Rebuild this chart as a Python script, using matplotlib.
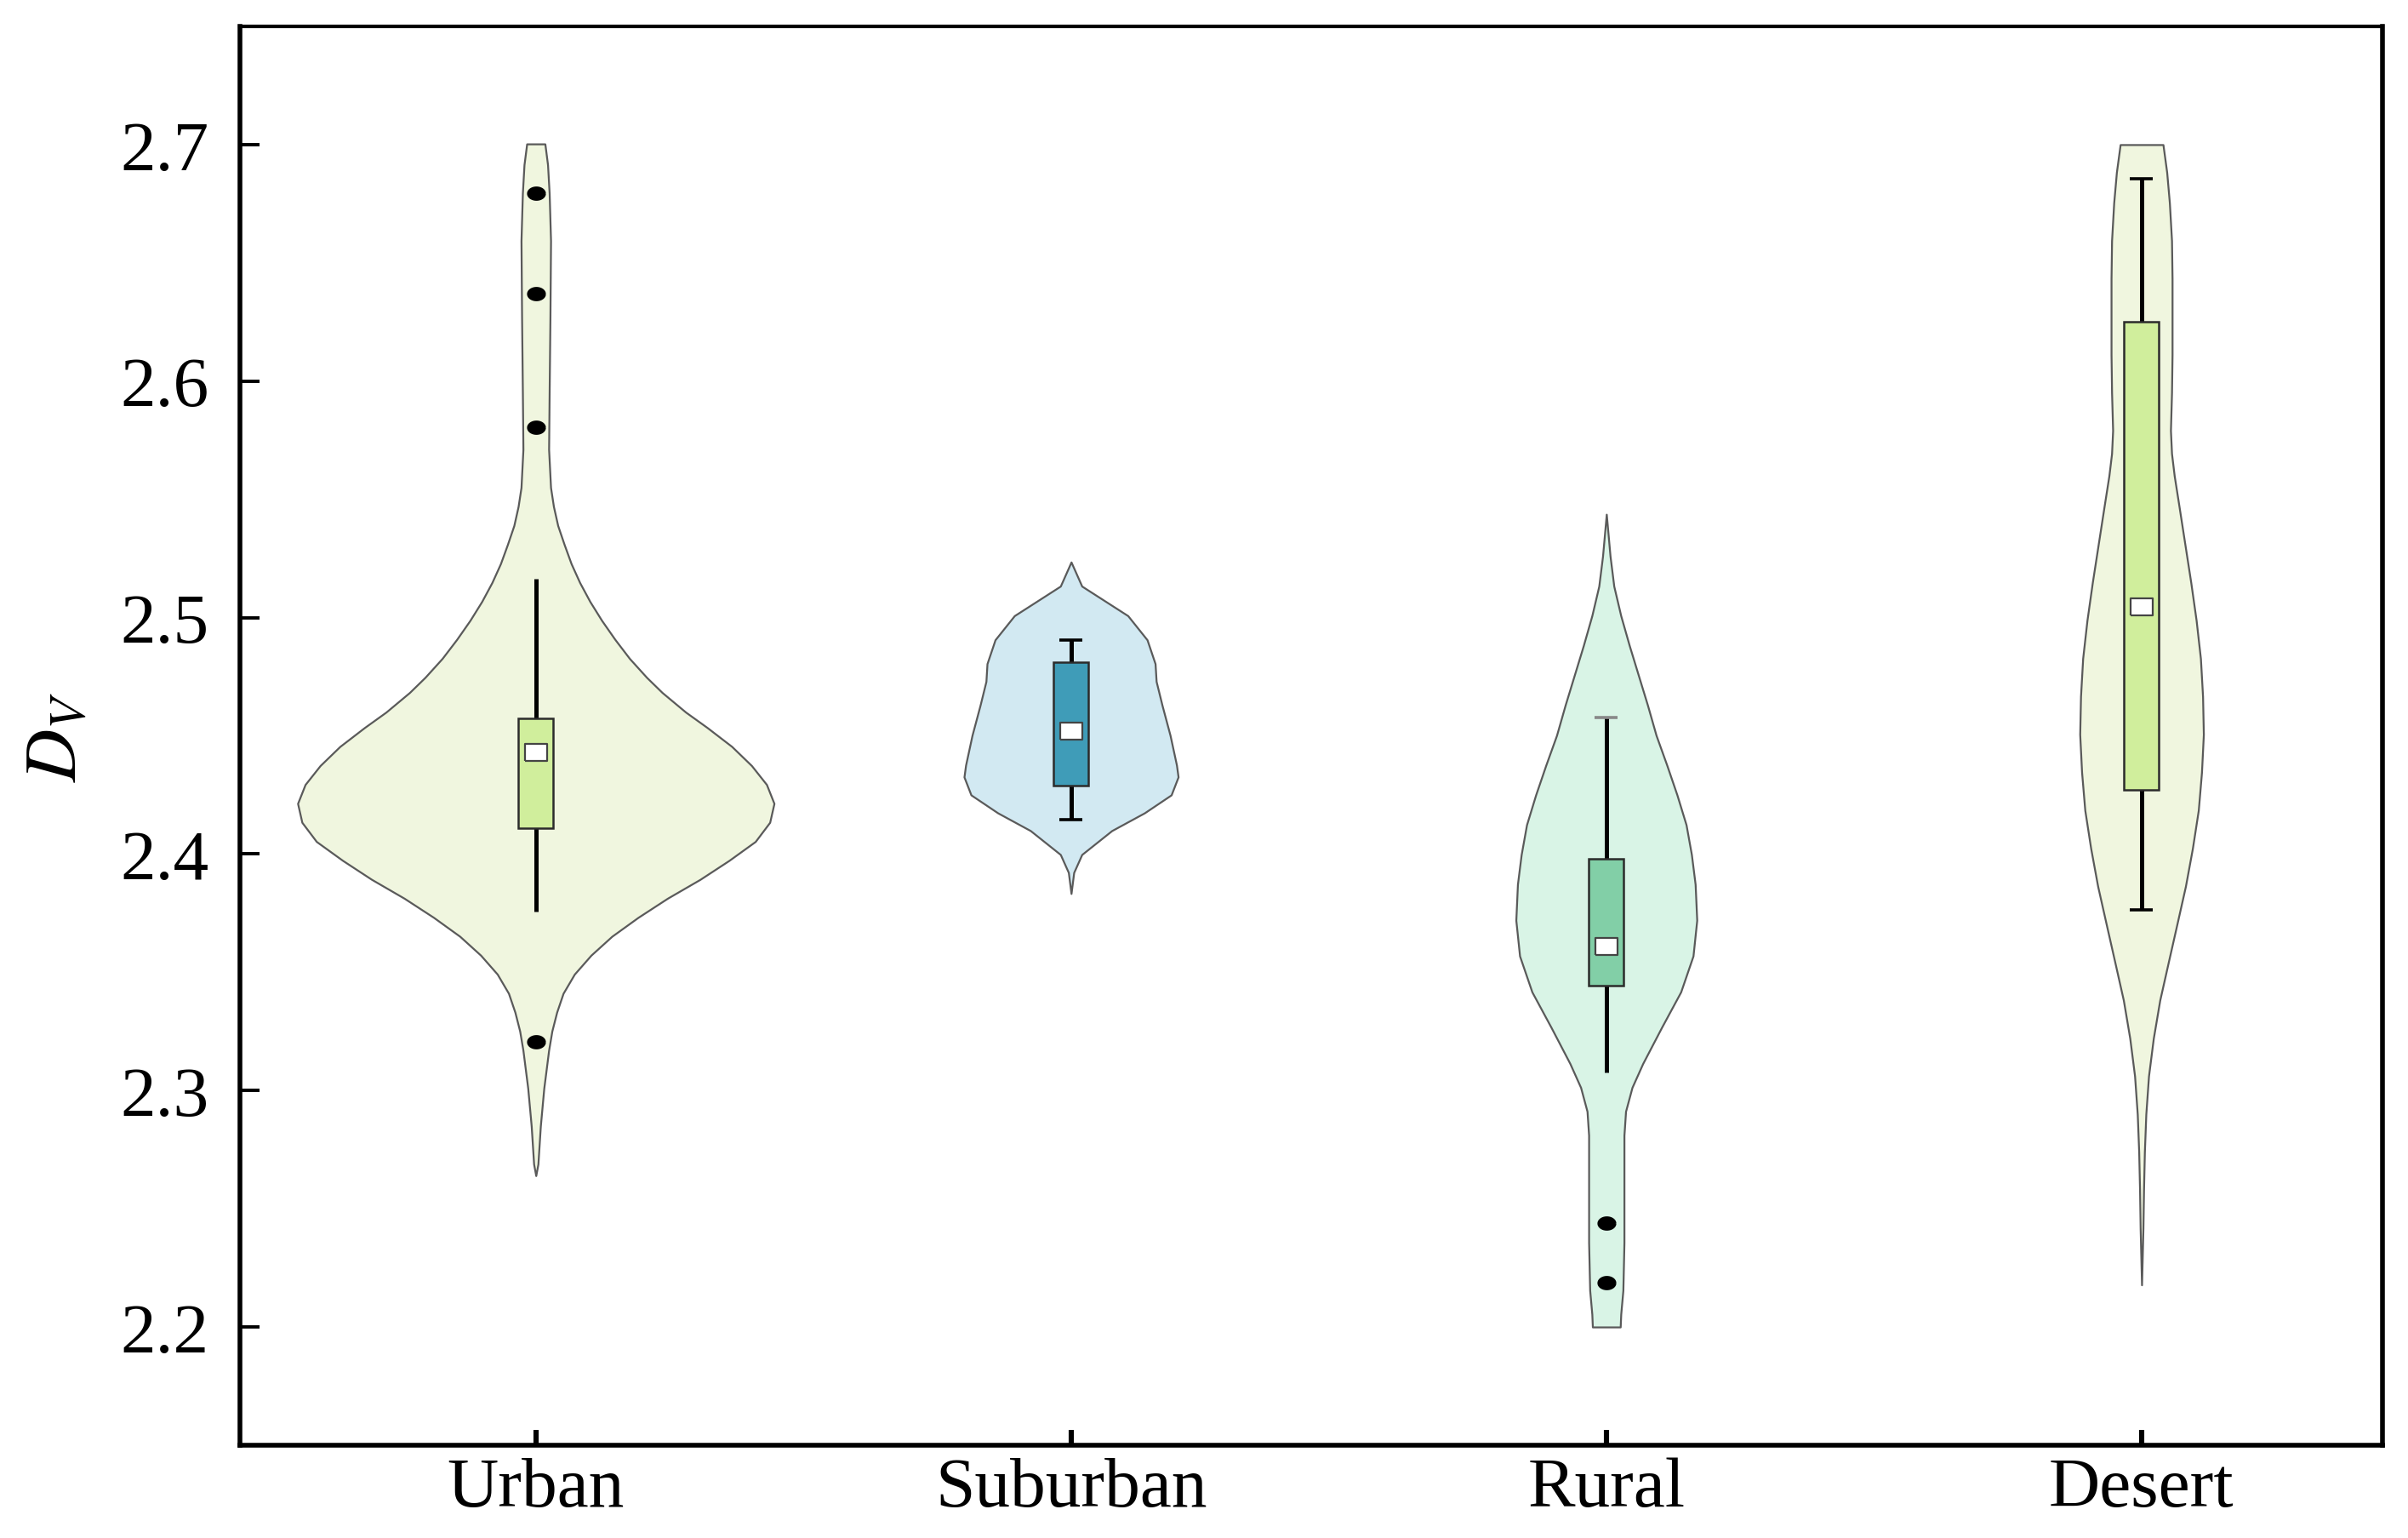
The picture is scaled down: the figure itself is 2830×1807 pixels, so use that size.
import numpy as np
import matplotlib
matplotlib.use('Agg')
import matplotlib.pyplot as plt

# categories
categories = ['Urban', 'Suburban', 'Rural', 'Desert']
positions = [1, 2, 3, 4]

# violin outlines: (D_V value, half width in category units)
urban_y = [2.7003, 2.6915, 2.6795, 2.6594, 2.6273, 2.5951, 2.5711, 2.5550, 2.5470,
           2.5389, 2.5309, 2.5228, 2.5148, 2.5068, 2.4988, 2.4907, 2.4827, 2.4747,
           2.4683, 2.4600, 2.4535, 2.4455, 2.4374, 2.4294, 2.4214,
           2.4134, 2.4053, 2.3973, 2.3893, 2.3813, 2.3732, 2.3652, 2.3572, 2.3492,
           2.3411, 2.3331, 2.3251, 2.3170, 2.3010, 2.2849, 2.2689, 2.2640]
urban_w = [0.017, 0.022, 0.025, 0.0276, 0.0265, 0.025, 0.024, 0.0276, 0.033,
           0.041, 0.053, 0.066, 0.082, 0.101, 0.123, 0.148, 0.175, 0.207,
           0.236, 0.280, 0.320, 0.366, 0.403, 0.431, 0.445,
           0.437, 0.410, 0.361, 0.307, 0.246, 0.191, 0.142, 0.103, 0.072,
           0.051, 0.039, 0.030, 0.024, 0.015, 0.0085, 0.004, 0.0]

suburban_y = [2.5235, 2.5133, 2.5008, 2.4906, 2.4805, 2.4730, 2.4629, 2.4502,
              2.4376, 2.4326, 2.4250, 2.4174, 2.4099, 2.3998, 2.3922, 2.3833]
suburban_w = [0.0, 0.020, 0.106, 0.142, 0.157, 0.159, 0.170, 0.185,
              0.197, 0.200, 0.187, 0.137, 0.076, 0.020, 0.005, 0.0]

rural_y = [2.5437, 2.5260, 2.5133, 2.5008, 2.4881, 2.4755, 2.4629, 2.4502, 2.4376,
           2.4250, 2.4124, 2.3998, 2.3872, 2.3720, 2.3569, 2.3417, 2.3266, 2.3114,
           2.3013, 2.2912, 2.2811, 2.2609, 2.2357, 2.2155, 2.2054, 2.2000]
rural_w = [0.0, 0.007, 0.014, 0.027, 0.043, 0.060, 0.077, 0.093, 0.113,
           0.132, 0.149, 0.159, 0.166, 0.169, 0.162, 0.139, 0.103, 0.068,
           0.048, 0.036, 0.033, 0.033, 0.033, 0.031, 0.027, 0.026]

desert_y = [2.7000, 2.6883, 2.6754, 2.6594, 2.6433, 2.6273, 2.6112, 2.5951, 2.5791,
            2.5694, 2.5600, 2.5470, 2.5309, 2.5148, 2.4988, 2.4827, 2.4667, 2.4506,
            2.4346, 2.4185, 2.4024, 2.3864, 2.3703, 2.3543, 2.3382, 2.3221, 2.3061,
            2.2900, 2.2740, 2.2579, 2.2418, 2.2178]
desert_w = [0.040, 0.047, 0.052, 0.056, 0.057, 0.057, 0.057, 0.056, 0.054,
            0.056, 0.061, 0.070, 0.081, 0.092, 0.102, 0.110, 0.114, 0.1155,
            0.112, 0.106, 0.095, 0.082, 0.066, 0.050, 0.034, 0.022, 0.013,
            0.008, 0.0053, 0.0037, 0.0026, 0.0]

violin_y = [urban_y, suburban_y, rural_y, desert_y]
violin_w = [urban_w, suburban_w, rural_w, desert_w]

# box statistics
q1 = [2.411, 2.4288, 2.3443, 2.4273]
q3 = [2.4575, 2.4811, 2.398, 2.6252]
whisk_lo = [2.3757, 2.4147, 2.3076, 2.3765]
whisk_hi = [2.5165, 2.4904, 2.4578, 2.6857]
means = [2.443, 2.452, 2.361, 2.5047]
outliers = [[2.6796, 2.637, 2.5804, 2.3205], [], [2.2438, 2.2188], []]

violin_colors = ['#F0F6DF', '#D2E9F2', '#D9F4E6', '#F0F6DF']
box_colors = ['#D0EE9C', '#3F9CB8', '#82CFA7', '#D0EE9C']
# whisker caps: (top, bottom), None = no cap
caps = [(None, None), ('black', 'black'), ('#888888', None), ('black', 'black')]

plt.rcParams['font.family'] = ['Liberation Serif', 'DejaVu Serif']
plt.rcParams['mathtext.fontset'] = 'stix'

fig = plt.figure(figsize=(14.15, 9.04), dpi=200)
ax = fig.add_axes([0.0996, 0.0603, 0.8898, 0.922])

box_w = 0.065
cap_w = 0.043

# elliptic marker for the outliers, rectangle for the means
t = np.linspace(0, 2 * np.pi, 40)
ellipse = list(zip(np.cos(t), 0.72 * np.sin(t)))
rect = [(-1.3, -1), (1.3, -1), (1.3, 1), (-1.3, 1), (-1.3, -1)]

for i, p in enumerate(positions):
    y = np.array(violin_y[i])
    w = np.array(violin_w[i])
    ax.fill_betweenx(y, p - w, p + w, facecolor=violin_colors[i],
                     edgecolor='#5a5a5a', linewidth=0.8, zorder=1)

    ax.vlines(p, whisk_lo[i], whisk_hi[i], color='black', linewidth=1.8, zorder=2)
    top_c, bot_c = caps[i]
    if top_c:
        ax.hlines(whisk_hi[i], p - cap_w / 2, p + cap_w / 2, color=top_c, linewidth=1.3, zorder=2)
    if bot_c:
        ax.hlines(whisk_lo[i], p - cap_w / 2, p + cap_w / 2, color=bot_c, linewidth=1.3, zorder=2)

    ax.bar(p, q3[i] - q1[i], bottom=q1[i], width=box_w, color=box_colors[i],
           edgecolor='#2b2b2b', linewidth=0.9, zorder=3)

    ax.plot(p, means[i], marker=rect, markersize=9.5, markerfacecolor='white',
            markeredgecolor='#444444', markeredgewidth=0.8, linestyle='none', zorder=4)

    if outliers[i]:
        ax.plot([p] * len(outliers[i]), outliers[i], marker=ellipse, markersize=7,
                color='black', linestyle='none', zorder=4)

ax.set_xlim(0.447, 4.45)
ax.set_ylim(2.15, 2.75)
ax.set_yticks([2.2, 2.3, 2.4, 2.5, 2.6, 2.7])
ax.set_yticklabels(['2.2', '2.3', '2.4', '2.5', '2.6', '2.7'])
ax.set_xticks(positions)
ax.set_xticklabels(categories)

ax.tick_params(axis='y', direction='in', length=8.3, width=1.4, labelsize=30, pad=13)
ax.tick_params(axis='x', direction='in', length=6.5, width=2.2, labelsize=30, pad=5)

ax.set_ylabel(r'$D_V$', fontsize=31, labelpad=12)

for side in ['left', 'bottom', 'right']:
    ax.spines[side].set_linewidth(2.0)
ax.spines['top'].set_linewidth(1.5)

fig.savefig('out.png', dpi=200)
